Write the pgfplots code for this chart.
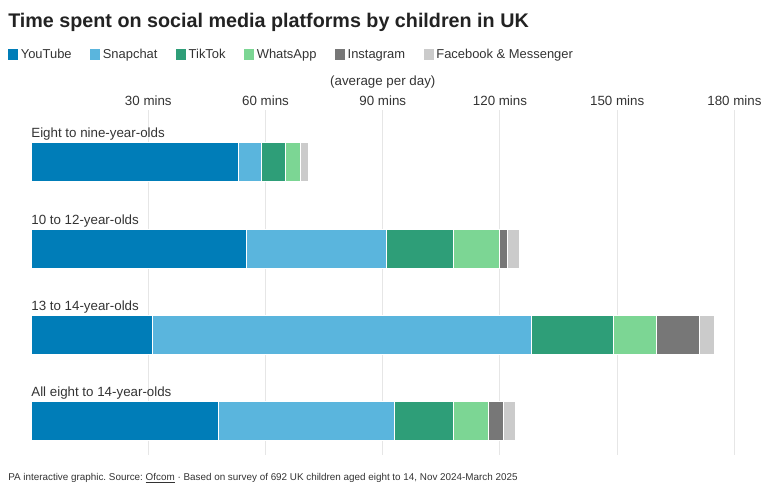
\documentclass[border=0pt]{standalone}
\usepackage{fontspec}
\setmainfont{Liberation Sans}
\usepackage{pgfplots}
\pgfplotsset{compat=1.18}
\definecolor{cYT}{HTML}{007DB8}
\definecolor{cSC}{HTML}{5AB5DD}
\definecolor{cTT}{HTML}{2E9E78}
\definecolor{cWA}{HTML}{7CD694}
\definecolor{cIG}{HTML}{777777}
\definecolor{cFB}{HTML}{CBCBCB}
\definecolor{titlec}{HTML}{222222}
\definecolor{textc}{HTML}{333333}
\definecolor{gridc}{HTML}{E6E6E6}
\tikzset{cat/.style={anchor=base west, inner sep=0pt, font=\fontsize{10}{12}\selectfont, text=textc, yshift=3.75pt}}
\frenchspacing
\begin{document}
\begin{tikzpicture}
\path[use as bounding box] (0,0) rectangle (576pt,-366.75pt);
\node[anchor=base west, inner sep=0pt, font=\fontsize{14.8}{17}\selectfont\bfseries, text=titlec] at (6pt,-20.3pt) {Time spent on social media platforms by children in UK};
\begin{axis}[
  at={(23.33pt,-341.25pt)}, anchor=south west,
  scale only axis, width=527.5pt, height=258.75pt,
  xbar stacked, bar width=0.4535,
  xmin=0, xmax=180, ymin=-0.61, ymax=3.40, y dir=reverse,
  ytick=\empty,
  xtick={30,60,90,120,150,180},
  xticklabel={\pgfmathprintnumber{\tick} mins},
  /pgf/number format/assume math mode=true,
  xticklabel pos=upper,
  axis line style={draw=none},
  major tick length=0pt,
  xmajorgrids, grid style={draw=gridc, line width=0.75pt},
  every x tick label/.append style={font=\fontsize{10}{12}\selectfont, text=textc, anchor=base, yshift=3.75pt},
  clip=false,
  legend columns=-1,
  legend cell align=left,
  legend style={at={(-0.0328,1.160)}, anchor=west, draw=none, fill=none, inner sep=0pt, outer sep=0pt,
    font=\fontsize{9.7}{11}\selectfont, text=textc,
    /tikz/every even column/.append style={column sep=11.8pt},
    /tikz/every odd column/.append style={column sep=0pt}},
  legend image code/.code={\path[#1,draw=none] (0pt,-3.6pt) rectangle (7.6pt,4.0pt);},
  every axis plot/.append style={draw=white, line width=0.75pt},
]
\addplot[fill=cYT] coordinates {(53,0) (55,1) (31,2) (48,3)};
\addplot[fill=cSC] coordinates {(6,0) (36,1) (97,2) (45,3)};
\addplot[fill=cTT] coordinates {(6,0) (17,1) (21,2) (15,3)};
\addplot[fill=cWA] coordinates {(4,0) (12,1) (11,2) (9,3)};
\addplot[fill=cIG] coordinates {(0,0) (2,1) (11,2) (4,3)};
\addplot[fill=cFB] coordinates {(2,0) (3,1) (4,2) (3,3)};
\legend{YouTube, Snapchat, TikTok, WhatsApp, Instagram, Facebook \& Messenger}
\node[anchor=center, font=\fontsize{10}{12}\selectfont, text=textc] at (axis description cs:0.5,1.081) {(average per day)};
\node[cat] at (axis cs:0,-0.2267) {Eight to nine-year-olds};
\node[cat] at (axis cs:0,0.7733) {10 to 12-year-olds};
\node[cat] at (axis cs:0,1.7733) {13 to 14-year-olds};
\node[cat] at (axis cs:0,2.7733) {All eight to 14-year-olds};
\end{axis}
\node[anchor=base west, inner sep=0pt, font=\fontsize{7.4}{9}\selectfont, text=textc] at (6pt,-360.5pt) {PA interactive graphic. Source: \underline{Ofcom} · Based on survey of 692 UK children aged eight to 14, Nov 2024-March 2025};
\end{tikzpicture}
\end{document}
